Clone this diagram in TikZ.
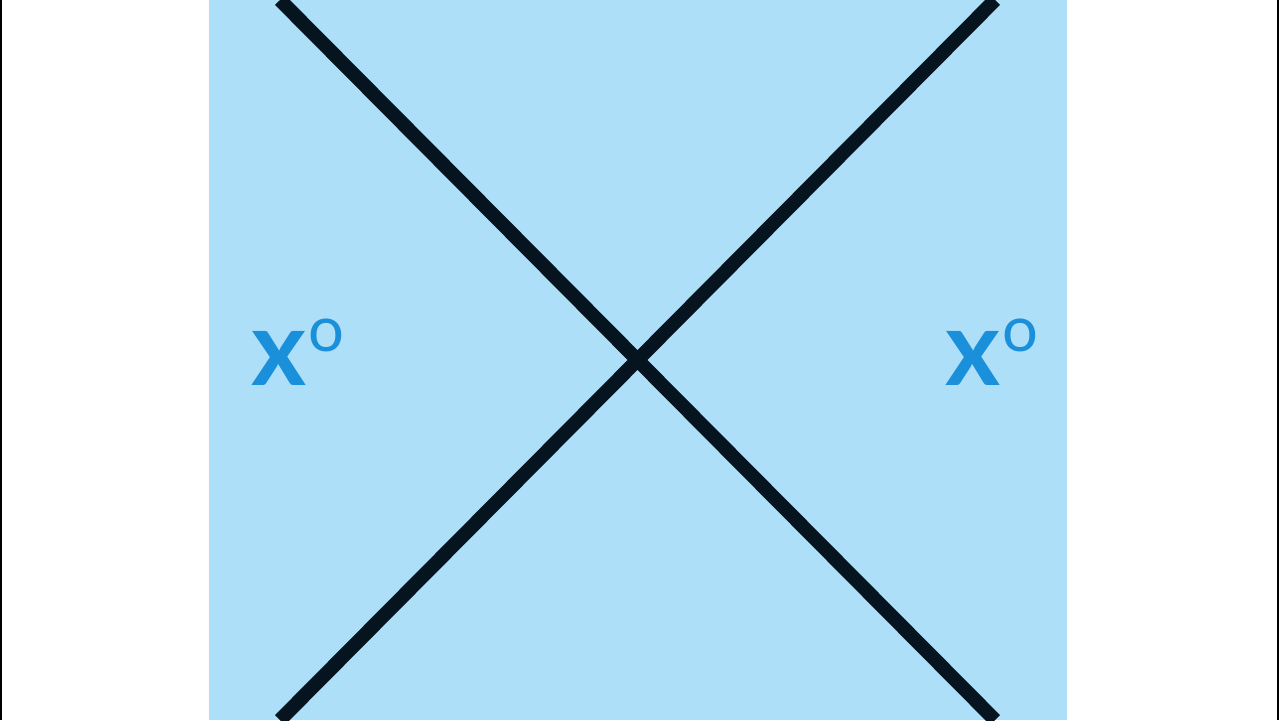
\documentclass[tikz,border=0pt]{standalone}
\usepackage{fontspec}
\setmainfont{Lato}
\usepackage{xcolor}
\definecolor{paneblue}{HTML}{ADE0F8}
\definecolor{angleblue}{HTML}{1A8FDA}
\definecolor{linenavy}{HTML}{06141F}
\newcommand{\anglex}{\fontsize{60}{64}\selectfont\bfseries x\hspace{1pt}\raisebox{19pt}{\fontsize{36}{36}\selectfont\mdseries o}}
\tikzset{anglelabel/.style={anchor=base west, inner sep=0pt, text=angleblue}}

\begin{document}
\begin{tikzpicture}[x=0.02cm, y=-0.02cm]
\useasboundingbox (0,0) rectangle (1280,720);
\fill[white] (0,0) rectangle (1280,720);
\fill[paneblue] (209,0) rectangle (1067,720);
\draw[line width=1.2pt] (1,0) -- (1,720);
\draw[line width=1.2pt] (1278,0) -- (1278,720);

% the two crossing lines
\coordinate (tl) at (280,0);
\coordinate (br) at (995,720);
\coordinate (bl) at (280,720);
\coordinate (tr) at (995,0);
\draw[color=linenavy, line width=0.28cm] (tl) -- (br);
\draw[color=linenavy, line width=0.28cm] (bl) -- (tr);

\node[anglelabel] (leftangle) at (251,385) {\anglex};
\node[anglelabel] (rightangle) at (945,385) {\anglex};
\end{tikzpicture}
\end{document}
